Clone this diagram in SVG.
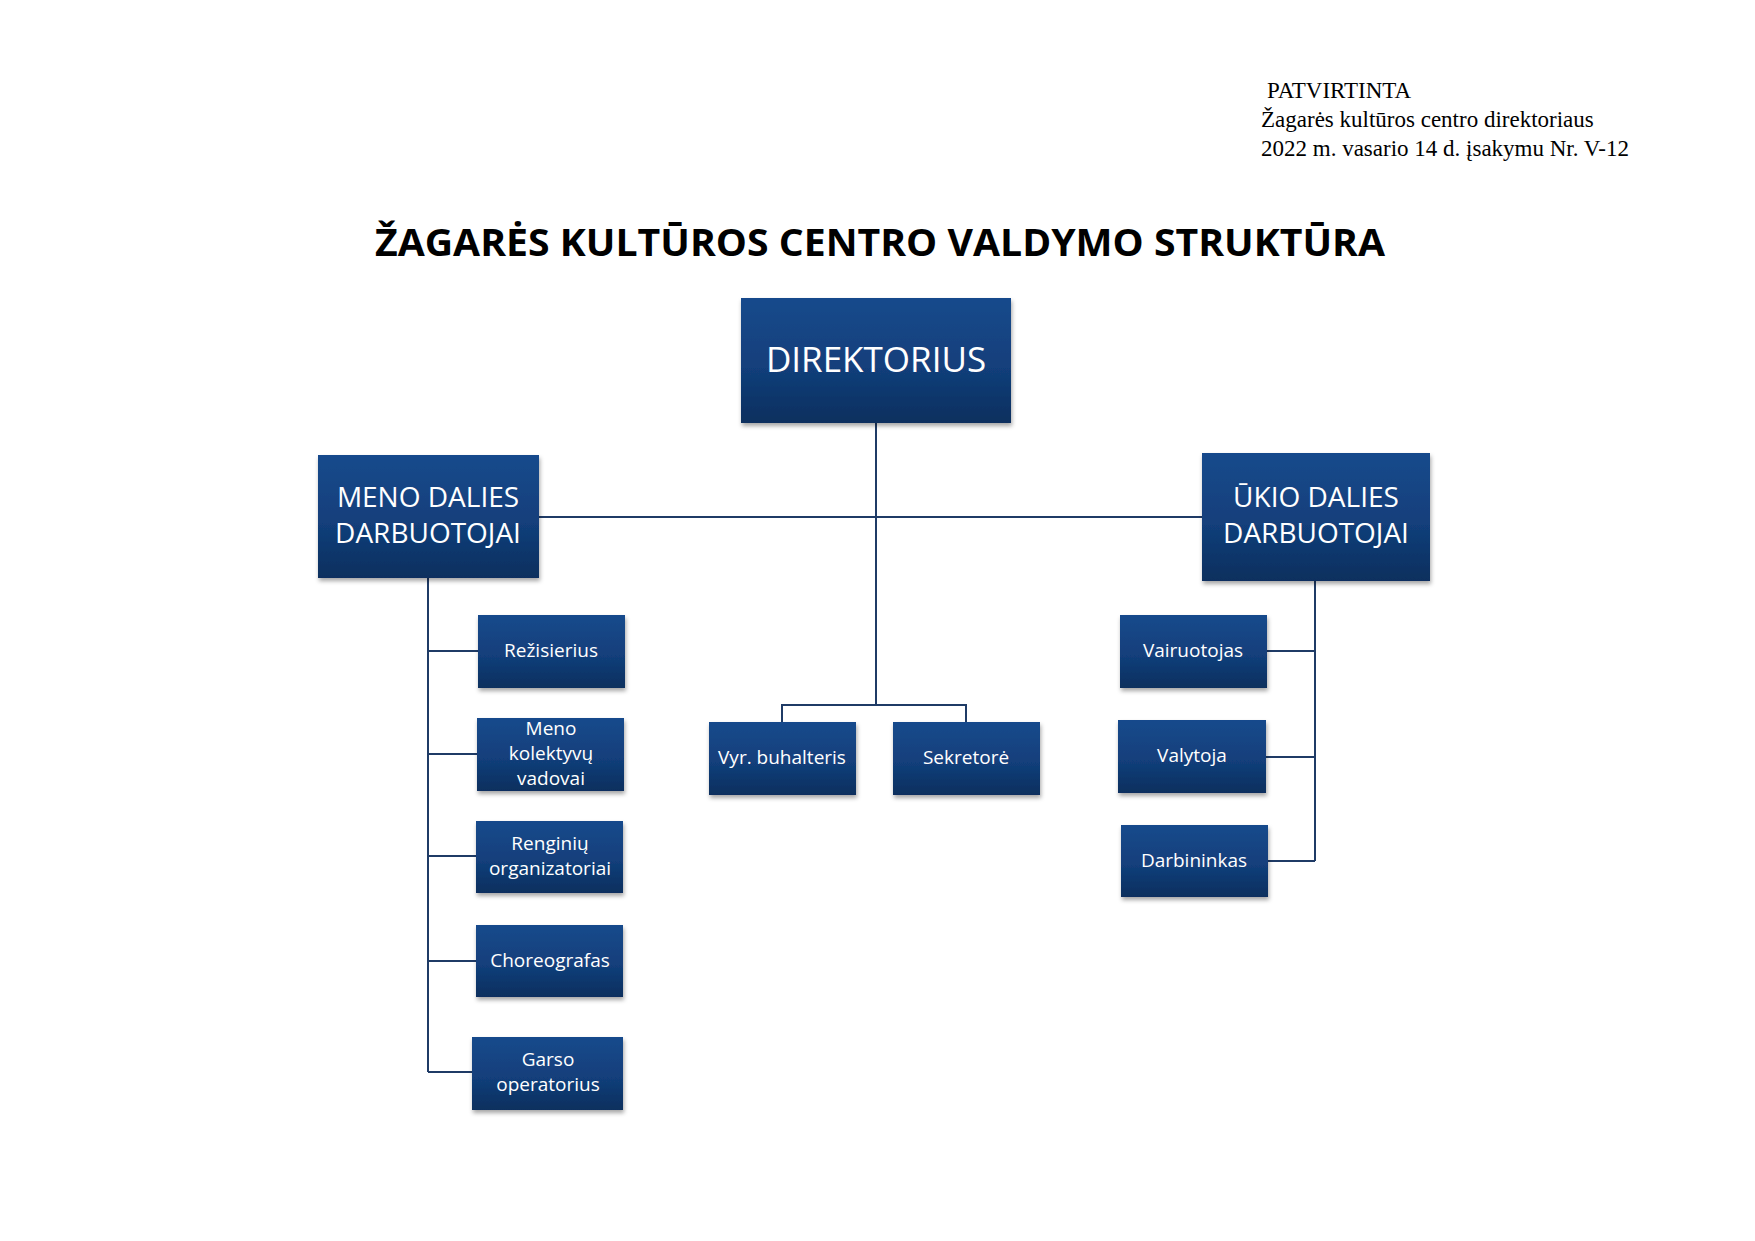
<svg xmlns="http://www.w3.org/2000/svg" width="1755" height="1241" viewBox="0 0 1755 1241">
<style>
.b{fill:url(#g);filter:url(#s)}
.t{fill:#fff;font-family:"Open Sans","Liberation Sans",sans-serif;text-anchor:middle}
.l{fill:none;stroke:#1f3b66;stroke-width:2}
.h{font-family:"Liberation Serif",serif;font-size:23px;fill:#000}
</style>
<defs>
<linearGradient id="g" x1="0" y1="0" x2="0" y2="1"><stop offset="0" stop-color="#164a8c"/><stop offset="0.55" stop-color="#123f7b"/><stop offset="1" stop-color="#0b2f5e"/></linearGradient>
<filter id="s" x="-10%" y="-10%" width="125%" height="130%"><feDropShadow dx="1" dy="3" stdDeviation="2" flood-color="#000" flood-opacity="0.35"/></filter>
</defs>
<rect width="1755" height="1241" fill="#fff"/>
<text class="h" x="1267" y="98"> PATVIRTINTA</text>
<text class="h" x="1261" y="127">Žagarės kultūros centro direktoriaus</text>
<text class="h" x="1261" y="156">2022 m. vasario 14 d. įsakymu Nr. V-12</text>
<text x="880" y="256" font-family="Open Sans,Liberation Sans,sans-serif" font-weight="bold" font-size="38" text-anchor="middle" textLength="1010" lengthAdjust="spacingAndGlyphs">ŽAGARĖS KULTŪROS CENTRO VALDYMO STRUKTŪRA</text>
<g id="connectors">
<path class="l" d="M876 423V705M539 517H1202M782 722V705H966V722"/>
<path class="l" d="M428 578V1072M428 651H478M428 754H477M428 856H476M428 961H476M428 1072H472"/>
<path class="l" d="M1315 581V861M1267 651H1315M1266 757H1315M1268 861H1315"/>
</g>
<g id="direktorius"><rect class="b" x="741" y="298" width="270" height="125"/><text class="t" x="876" y="372" font-size="35">DIREKTORIUS</text></g>
<g id="meno"><rect class="b" x="318" y="455" width="221" height="123"/><text class="t" x="428" y="507" font-size="28">MENO DALIES</text><text class="t" x="428" y="543" font-size="28">DARBUOTOJAI</text></g>
<g id="ukio"><rect class="b" x="1202" y="453" width="228" height="128"/><text class="t" x="1316" y="507" font-size="28">ŪKIO DALIES</text><text class="t" x="1316" y="543" font-size="28">DARBUOTOJAI</text></g>
<g id="rezisierius"><rect class="b" x="478" y="615" width="147" height="73"/><text class="t" x="551" y="657" font-size="19">Režisierius</text></g>
<g id="meno-kolektyvu"><rect class="b" x="477" y="718" width="147" height="73"/><text class="t" x="551" y="735" font-size="19">Meno</text><text class="t" x="551" y="760" font-size="19">kolektyvų</text><text class="t" x="551" y="785" font-size="19">vadovai</text></g>
<g id="renginiu"><rect class="b" x="476" y="821" width="147" height="72"/><text class="t" x="550" y="850" font-size="19">Renginių</text><text class="t" x="550" y="875" font-size="19">organizatoriai</text></g>
<g id="choreografas"><rect class="b" x="476" y="925" width="147" height="72"/><text class="t" x="550" y="967" font-size="19">Choreografas</text></g>
<g id="garso"><rect class="b" x="472" y="1037" width="151" height="73"/><text class="t" x="548" y="1066" font-size="19">Garso</text><text class="t" x="548" y="1091" font-size="19">operatorius</text></g>
<g id="buhalteris"><rect class="b" x="709" y="722" width="147" height="73"/><text class="t" x="782" y="764" font-size="19">Vyr. buhalteris</text></g>
<g id="sekretore"><rect class="b" x="893" y="722" width="147" height="73"/><text class="t" x="966" y="764" font-size="19">Sekretorė</text></g>
<g id="vairuotojas"><rect class="b" x="1120" y="615" width="147" height="73"/><text class="t" x="1193" y="657" font-size="19">Vairuotojas</text></g>
<g id="valytoja"><rect class="b" x="1118" y="720" width="148" height="73"/><text class="t" x="1192" y="762" font-size="19">Valytoja</text></g>
<g id="darbininkas"><rect class="b" x="1121" y="825" width="147" height="72"/><text class="t" x="1194" y="867" font-size="19">Darbininkas</text></g>
</svg>
